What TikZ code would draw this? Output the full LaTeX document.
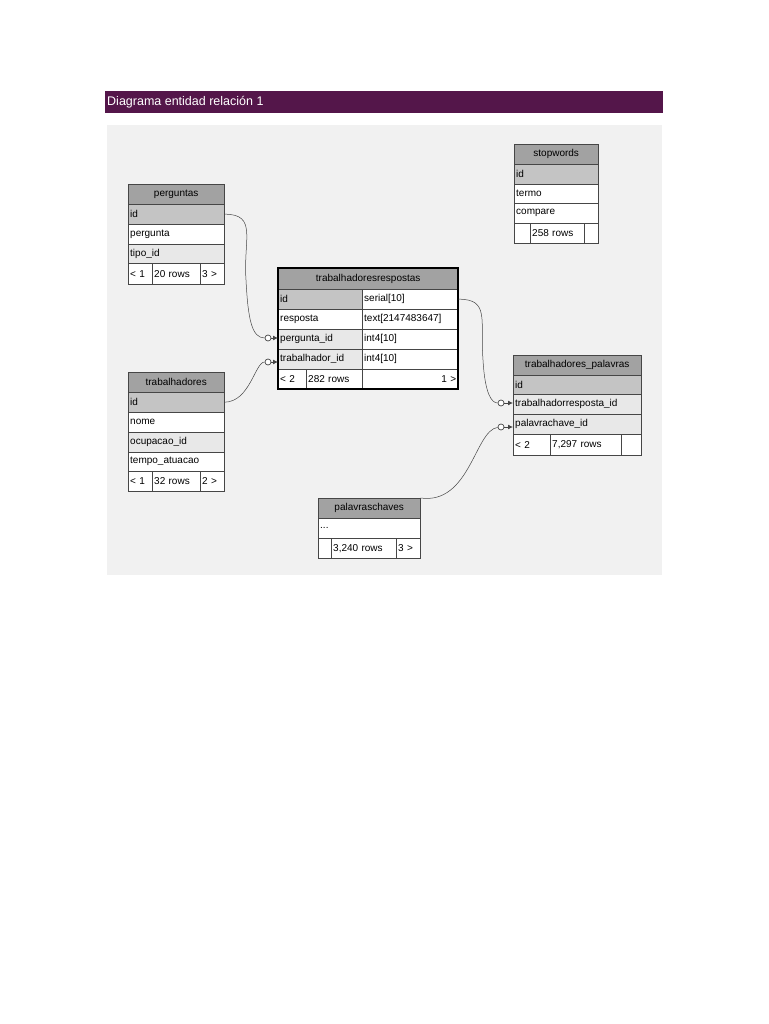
\documentclass[tikz,border=0pt]{standalone}
\usepackage{fontspec}
\setmainfont{Liberation Sans}
\usetikzlibrary{arrows.meta}
\definecolor{hdr}{RGB}{162,162,162}
\definecolor{pk}{RGB}{196,196,196}
\definecolor{fk}{RGB}{232,232,232}
\definecolor{panel}{RGB}{241,241,241}
\definecolor{titlebg}{RGB}{84,22,74}
\definecolor{ln}{RGB}{70,70,70}
\newcommand{\tcell}[7]{% name x1 y1 x2 y2 fill text
  \node[draw=ln,fill=#6,anchor=north west,minimum width={#4-#2},minimum height={#5-#3},inner sep=0pt,text width={#4-#2-4},align=left,font=\fontsize{10}{11}\selectfont] (#1) at (#2,#3) {#7};}
\newcommand{\hcell}[6]{% name x1 y1 x2 y2 text
  \node[draw=ln,fill=hdr,anchor=north west,minimum width={#4-#2},minimum height={#5-#3},inner sep=0pt,align=center,font=\fontsize{10}{11}\selectfont] (#1) at (#2,#3) {#6};}
\newcommand{\fcell}[6]{% name x1 y1 x2 y2 text (right aligned)
  \node[draw=ln,fill=white,anchor=north west,minimum width={#4-#2},minimum height={#5-#3},inner sep=0pt,text width={#4-#2-4},align=right,font=\fontsize{10}{11}\selectfont] (#1) at (#2,#3) {#6};}
\tikzset{rel/.style={draw=ln,line width=0.5pt},
  oc/.style={draw=ln,line width=0.7pt,fill=white,circle,inner sep=0pt,minimum size=6pt}}
\begin{document}
\begin{tikzpicture}[x=1pt,y=-1pt]
\useasboundingbox (0,0) rectangle (768,1024);
\fill[white] (0,0) rectangle (768,1024);
\node[fill=titlebg,anchor=north west,minimum width=558,minimum height=22,inner sep=0pt] (title) at (105,91) {};
\node[anchor=west,text=white,font=\fontsize{12.5}{14}\selectfont,inner sep=0pt] (titletxt) at (107,102) {Diagrama entidad relación 1};
\fill[panel] (107,125) rectangle (662,575);
% perguntas
\hcell{p0}{128}{184}{224}{204}{perguntas}
\tcell{p1}{128}{204}{224}{224}{pk}{id}
\tcell{p2}{128}{224}{224}{244}{white}{pergunta}
\tcell{p3}{128}{244}{224}{263}{fk}{tipo\_id}
\tcell{p4}{128}{263}{152}{284}{white}{< 1}
\tcell{p5}{152}{263}{200}{284}{white}{20 rows}
\tcell{p6}{200}{263}{224}{284}{white}{3 >}
% trabalhadores
\hcell{t0}{128}{372}{224}{392}{trabalhadores}
\tcell{t1}{128}{392}{224}{412}{pk}{id}
\tcell{t2}{128}{412}{224}{432}{white}{nome}
\tcell{t3}{128}{432}{224}{452}{fk}{ocupacao\_id}
\tcell{t4}{128}{452}{224}{471}{white}{tempo\_atuacao}
\tcell{t5}{128}{471}{152}{491}{white}{< 1}
\tcell{t6}{152}{471}{200}{491}{white}{32 rows}
\tcell{t7}{200}{471}{224}{491}{white}{2 >}
% trabalhadoresrespostas
\hcell{r0}{278}{268}{458}{289}{trabalhadoresrespostas}
\tcell{r1}{278}{289}{362}{309}{pk}{id}
\tcell{r1b}{362}{289}{458}{309}{white}{serial[10]}
\tcell{r2}{278}{309}{362}{329}{white}{resposta}
\tcell{r2b}{362}{309}{458}{329}{white}{text[2147483647]}
\tcell{r3}{278}{329}{362}{349}{fk}{pergunta\_id}
\tcell{r3b}{362}{329}{458}{349}{white}{int4[10]}
\tcell{r4}{278}{349}{362}{369}{fk}{trabalhador\_id}
\tcell{r4b}{362}{349}{458}{369}{white}{int4[10]}
\tcell{r5}{278}{369}{306}{389}{white}{< 2}
\tcell{r6}{306}{369}{362}{389}{white}{282 rows}
\fcell{r7}{362}{369}{458}{389}{1 >}
\draw[line width=1.6pt,black] (278,268) rectangle (458,389);
% stopwords
\hcell{s0}{514}{144}{598}{164}{stopwords}
\tcell{s1}{514}{164}{598}{184}{pk}{id}
\tcell{s2}{514}{184}{598}{203}{white}{termo}
\tcell{s3}{514}{203}{598}{223}{white}{compare}
\tcell{s4}{514}{223}{530}{243}{white}{}
\tcell{s5}{530}{223}{584}{243}{white}{258 rows}
\tcell{s6}{584}{223}{598}{243}{white}{}
% trabalhadores_palavras
\hcell{w0}{513}{355}{641}{375}{trabalhadores\_palavras}
\tcell{w1}{513}{375}{641}{394}{pk}{id}
\tcell{w2}{513}{394}{641}{414}{fk}{trabalhadorresposta\_id}
\tcell{w3}{513}{414}{641}{434}{fk}{palavrachave\_id}
\tcell{w4}{513}{434}{550}{455}{white}{< 2}
\tcell{w5}{550}{434}{621}{455}{white}{7,297 rows}
\tcell{w6}{621}{434}{641}{455}{white}{}
% palavraschaves
\hcell{k0}{318}{498}{420}{518}{palavraschaves}
\tcell{k1}{318}{518}{420}{538}{white}{...}
\tcell{k2}{318}{538}{331}{558}{white}{}
\tcell{k3}{331}{538}{396}{558}{white}{3,240 rows}
\tcell{k4}{396}{538}{420}{558}{white}{3 >}
% connectors
\node[oc] (c1) at (268,338) {};
\node[oc] (c2) at (268,362) {};
\node[oc] (c3) at (501,403) {};
\node[oc] (c4) at (501,427) {};
\draw[rel] (p1.east) .. controls (258,214) and (243,240) .. (246,280) .. controls (248,320) and (252,338) .. (c1);
\draw[rel] (t1.east) .. controls (250,402) and (255,362) .. (c2);
\draw[rel] (r1b.east) .. controls (490,299) and (480,320) .. (483,360) .. controls (485,395) and (492,403) .. (c3);
\draw[rel] (k0.north east) .. controls (470,505) and (475,430) .. (c4);
\foreach \c/\r in {c1/r3,c2/r4,c3/w2,c4/w3}{
  \draw[rel,line width=0.8pt,-{Latex[length=5pt,width=5pt]}] (\c.east) -- (\c.east -| \r.west);}
\end{tikzpicture}
\end{document}
